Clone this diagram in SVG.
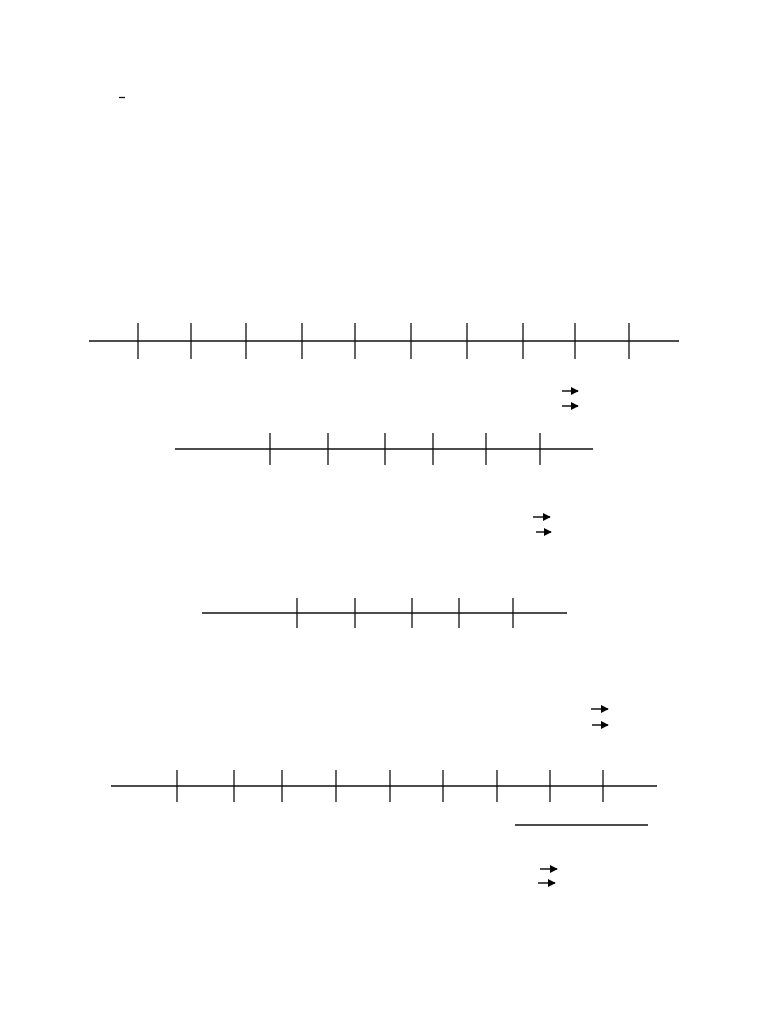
<svg xmlns="http://www.w3.org/2000/svg" width="768" height="1024" viewBox="0 0 768 1024">
<style>
.ln{stroke:#111;stroke-width:1.3;fill:none}
.ar{stroke:#000;stroke-width:1.4;fill:none}
</style>
<defs>
<marker id="ah" viewBox="0 0 10 10" refX="9" refY="5" markerWidth="8" markerHeight="8" markerUnits="userSpaceOnUse" orient="auto">
<path d="M0,0 L10,5 L0,10 z" fill="#000"/>
</marker>
</defs>
<rect width="768" height="1024" fill="#fff"/>
<line x1="119" y1="97.5" x2="125" y2="97.5" class="ln" stroke-width="1.5"/>
<g id="line1">
<line x1="89" y1="341" x2="679" y2="341" class="ln"/>
<path class="ln" d="M138,323V359M191,323V359M246,323V359M302,323V359M355,323V359M411,323V359M467,323V359M523,323V359M575,323V359M629,323V359"/>
</g>
<g id="line2">
<line x1="175" y1="449" x2="593" y2="449" class="ln"/>
<path class="ln" d="M270,433V465M328,433V465M385,433V465M433,433V465M486,433V465M540,433V465"/>
</g>
<g id="line3">
<line x1="202" y1="613" x2="567" y2="613" class="ln"/>
<path class="ln" d="M297,598V628M355,598V628M412,598V628M459,598V628M513,598V628"/>
</g>
<g id="line4">
<line x1="111" y1="786" x2="657" y2="786" class="ln"/>
<path class="ln" d="M177,770V802M234,770V802M282,770V802M336,770V802M390,770V802M443,770V802M497,770V802M550,770V802M603,770V802"/>
<line x1="515" y1="825" x2="648" y2="825" class="ln"/>
</g>
<g id="connectors">
<line x1="562" y1="391" x2="578" y2="391" class="ar" marker-end="url(#ah)"/>
<line x1="562" y1="406" x2="578" y2="406" class="ar" marker-end="url(#ah)"/>
<line x1="533" y1="517" x2="550" y2="517" class="ar" marker-end="url(#ah)"/>
<line x1="536" y1="532" x2="551" y2="532" class="ar" marker-end="url(#ah)"/>
<line x1="591" y1="709" x2="608" y2="709" class="ar" marker-end="url(#ah)"/>
<line x1="592" y1="725" x2="608" y2="725" class="ar" marker-end="url(#ah)"/>
<line x1="540" y1="869" x2="557" y2="869" class="ar" marker-end="url(#ah)"/>
<line x1="538" y1="883" x2="555" y2="883" class="ar" marker-end="url(#ah)"/>
</g>
</svg>
